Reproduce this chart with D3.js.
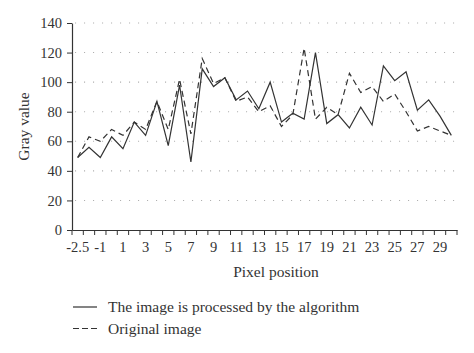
<!DOCTYPE html>
<html>
<head>
<meta charset="utf-8">
<script src="https://cdn.jsdelivr.net/npm/d3@7"></script>
<style>
  body { margin: 0; background: #fff; }
  text { font-family: "Liberation Serif", "DejaVu Serif", serif; fill: #333; }
</style>
</head>
<body>
<div id="chart"></div>
<script>
// Pixel positions (categories) and tick labels
const positions = ['-2.5', '-2', '-1', '0', '1', '2', '3', '4', '5', '6', '7', '8', '9', '10',
    '11', '12', '13', '14', '15', '16', '17', '18', '19', '20', '21', '22', '23', '24',
    '25', '26', '27', '28', '29', '30'];
const xLabels = ['-2.5', '-1', '1', '3', '5', '7', '9', '11', '13', '15', '17', '19',
    '21', '23', '25', '27', '29'];
const yTicks = [0, 20, 40, 60, 80, 100, 120, 140];

// Gray values
const processed = [49, 56, 49, 63, 55, 73, 64, 87, 57, 98, 46, 109, 97, 103, 88, 94, 82,
    100, 73, 79, 75, 120, 72, 78, 69, 83, 71, 111, 101, 107, 81, 88, 77, 64];
const original = [49, 63, 60, 68, 64, 73, 68, 87, 68, 102, 65, 116, 99, 103, 87, 90, 80,
    84, 70, 78, 123, 75, 83, 78, 106, 93, 97, 87, 92, 80, 67, 70, 67, 64];

const seriesNames = ['The image is processed by the algorithm', 'Original image'];

const W = 474, H = 353;
const plot = { left: 72, right: 457, top: 23, bottom: 230 };
const ink = '#333';

const svg = d3.select('#chart')
    .append('svg')
    .attr('width', W)
    .attr('height', H);

// Scales
const x = d3.scaleBand()
    .domain(positions)
    .range([plot.left, plot.right])
    .padding(0);

const y = d3.scaleLinear()
    .domain([0, 140])
    .range([plot.bottom, plot.top]);

// Dotted gridlines
svg.append('g')
    .selectAll('line')
    .data(yTicks.filter(d => d > 0))
    .enter()
    .append('line')
    .attr('x1', plot.left + 3)
    .attr('x2', plot.right + 3)
    .attr('y1', d => y(d))
    .attr('y2', d => y(d))
    .attr('stroke', '#b0b0b0')
    .attr('stroke-width', 1.1)
    .attr('stroke-dasharray', '1.1,7.9');

// Y axis
const yAxis = svg.append('g')
    .attr('transform', `translate(${plot.left},0)`)
    .call(d3.axisLeft(y).tickValues(yTicks).tickSize(5).tickSizeOuter(0).tickPadding(5));
yAxis.selectAll('text').style('font-size', '14.5px').style('font-family', '"Liberation Serif", serif');

// X axis: labels centred on every other category
const xAxis = svg.append('g')
    .attr('transform', `translate(0,${plot.bottom})`)
    .call(d3.axisBottom(x).tickValues(xLabels).tickSize(0).tickSizeOuter(0).tickPadding(12));
xAxis.selectAll('text').style('font-size', '14.5px').style('font-family', '"Liberation Serif", serif');

// X axis boundary ticks between categories
const bounds = positions.map(d => x(d)).concat([x(positions[positions.length - 1]) + x.bandwidth()]);
svg.append('g')
    .selectAll('line')
    .data(bounds)
    .enter()
    .append('line')
    .attr('x1', d => d)
    .attr('x2', d => d)
    .attr('y1', plot.bottom)
    .attr('y2', plot.bottom + 5)
    .attr('stroke', ink);

svg.selectAll('.domain').attr('stroke', ink).attr('stroke-width', 1.2);
svg.selectAll('.tick line').attr('stroke', ink);

// Lines
const line = d3.line()
    .x((d, i) => x(positions[i]) + x.bandwidth() / 2)
    .y(d => y(d));

svg.append('path')
    .datum(original)
    .attr('d', line)
    .attr('fill', 'none')
    .attr('stroke', ink)
    .attr('stroke-width', 1.2)
    .attr('stroke-dasharray', '6,4');

svg.append('path')
    .datum(processed)
    .attr('d', line)
    .attr('fill', 'none')
    .attr('stroke', ink)
    .attr('stroke-width', 1.2);

// Axis titles
svg.append('text')
    .attr('transform', `translate(29,${(plot.top + plot.bottom) / 2}) rotate(-90)`)
    .attr('text-anchor', 'middle')
    .style('font-size', '15.5px')
    .text('Gray value');

svg.append('text')
    .attr('x', 276)
    .attr('y', 277)
    .attr('text-anchor', 'middle')
    .style('font-size', '15.5px')
    .text('Pixel position');

// Legend
const legend = svg.append('g');
seriesNames.forEach((name, i) => {
    const ly = 307 + i * 21.5;
    legend.append('line')
        .attr('x1', 73)
        .attr('x2', 97)
        .attr('y1', ly)
        .attr('y2', ly)
        .attr('stroke', ink)
        .attr('stroke-width', 1.2)
        .attr('stroke-dasharray', i === 1 ? '6,3' : null);
    legend.append('text')
        .attr('x', 108)
        .attr('y', ly + 5)
        .style('font-size', '15.5px')
        .text(name);
});
</script>
</body>
</html>
